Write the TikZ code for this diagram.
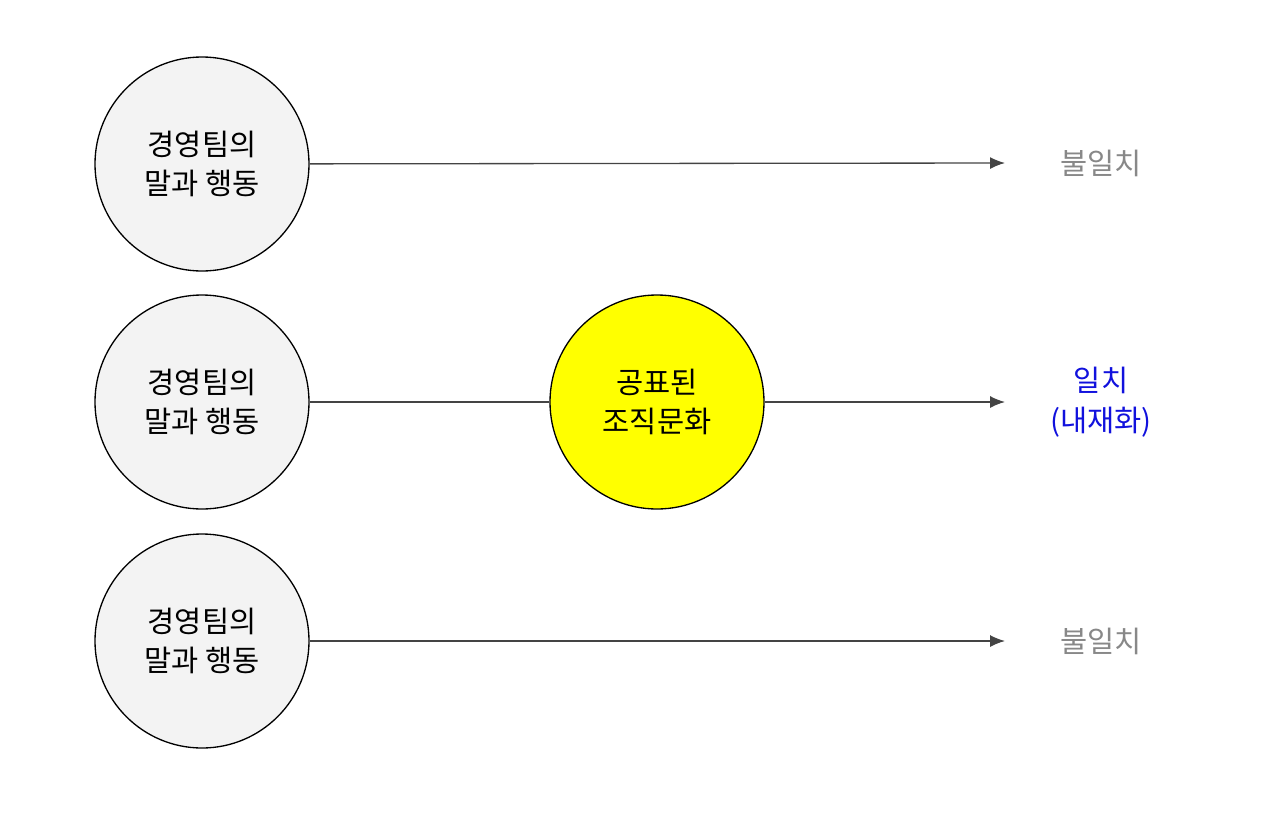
\documentclass[tikz,border=0pt]{standalone}
\usepackage{fontspec}
\setmainfont{Noto Sans CJK KR}
\usetikzlibrary{arrows.meta}

\begin{document}
\begin{tikzpicture}[thick, line width=0.75pt,
  main/.style = {draw, circle, minimum size=4.28cm, inner sep=0pt, align=center, font=\fontsize{16.8}{22.5}\selectfont},
  team/.style = {main, fill={rgb,255:red,243;green,243;blue,243}},
  culture/.style = {main, fill={rgb,255:red,255;green,255;blue,0}},
  result/.style = {align=center, font=\fontsize{16.8}{22.5}\selectfont},
  link/.style = {draw={rgb,255:red,68;green,68;blue,68}, -{Latex[length=3mm,width=2.4mm]}}]
\useasboundingbox (0,0) rectangle (25.6,-16.42);
\node[team] (t1) at (4.04,-3.28) {경영팀의\\말과 행동};
\node[team] (t2) at (4.04,-8.04) {경영팀의\\말과 행동};
\node[team] (t3) at (4.04,-12.82) {경영팀의\\말과 행동};
\node[culture] (c) at (13.14,-8.04) {공표된\\조직문화};
\coordinate (e1) at (20.1,-3.26);
\coordinate (e2) at (20.1,-8.04);
\coordinate (e3) at (20.1,-12.82);
\node[result, text={rgb,255:red,136;green,136;blue,136}] (r1) at (22.02,-3.26) {불일치};
\node[result, text={rgb,255:red,17;green,17;blue,221}] (r2) at (22.02,-8.04) {일치\\(내재화)};
\node[result, text={rgb,255:red,136;green,136;blue,136}] (r3) at (22.02,-12.82) {불일치};
\draw[link] (t1) -- (e1);
\draw[draw={rgb,255:red,68;green,68;blue,68}] (t2) -- (c);
\draw[link] (c) -- (e2);
\draw[link] (t3) -- (e3);
\end{tikzpicture}
\end{document}
